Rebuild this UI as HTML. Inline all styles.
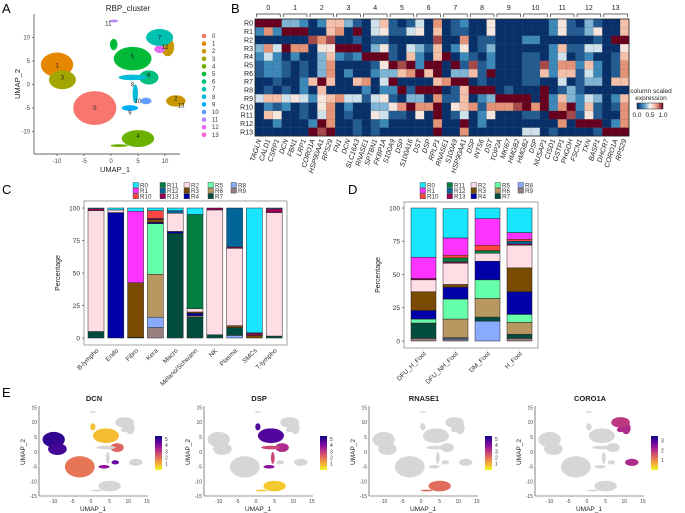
<!DOCTYPE html>
<html><head><meta charset="utf-8"><style>
body{margin:0;background:#fff}
svg{display:block;font-family:"Liberation Sans",Arial,sans-serif}
</style></head><body>
<svg id="fig" width="685" height="513" viewBox="0 0 685 513" xmlns="http://www.w3.org/2000/svg">
<g id="gA"></g>
<g id="gB"></g>
<g id="gC"></g>
<g id="gD"></g>
<g id="gE"></g>
</svg>
<script>
// ---------- data ----------
const clusterColors = ["#F8766D","#E58700","#C99800","#A3A500","#6BB100","#00BA38","#00BF7D","#00C0AF","#00BCD8","#00B0F6","#619CFF","#B983FF","#E76BF3","#FD61D1"];
// blobs: cluster, cx, cy, rx, ry (UMAP units)
const blobCluster = [0,1,3,2,2,4,4,5,5,6,7,8,8,9,10,11,12];
const blobCx = [-3,-10,-9,12,10.5,5,1.5,4,0.5,7,9,4,4.5,3.5,6.5,0.5,9];
const blobCy = [-5,4.2,1,-3.5,8,-11.5,-13,5.5,8.5,1.5,10,1.5,-2,-5,-3.5,13.5,7.5];
const blobRx = [4,3,2.5,1.8,1.2,3,1.6,3.5,0.7,1.8,2.5,2.6,0.5,1.5,1,0.8,1];
const blobRy = [3.6,2.6,2,1.2,2,1.8,0.3,2.5,1.2,1.5,1.8,0.6,2,0.6,0.7,0.3,0.8];

const rowLabels = ["R0","R1","R2","R3","R4","R5","R6","R7","R8","R9","R10","R11","R12","R13"];
const geneLabels = ["TAGLN","CALD1","CSRP1","DCN","FBN1","LRP1","CORO1A","HSP90AA1","RPS29","FN1","DCN","SLC16A3","RNASE1","SPTBN1","FKBP1A","S100A9","DSP","S100A16","DST","DSP","RPLP1","RNASE1","S100A9","HSP90AA1","DSP","INTS6","DST","TOP2A","MKI67","HMGB2","HMGB2","DSP","NUSAP1","CISD1","GSTP1","PHGDH","FSCN1","TXN","BASP1","DHCR7","CORO1A","RPS29"];
const heatRows = [
"999332026631046101407012005000000251031006",
"272999006709045114506011005000000251135006",
"000000878001011000008007011000220000001099",
"374977055999035104316025013000000261144005",
"242020036212999106206902102000110240120016",
"122101037000015989299091812000118277262017",
"122101037020023367969033619000116266142017",
"001002696006704900006799010000110040133066",
"010102060000202291999016999010009013100000",
"466454256744145103307116023999909263243026",
"021201057020033579779056717778979279261017",
"065001047010054110509014025000110998151007",
"002000297001012000007009020000000070999027",
"000000989001010000009007000000440100001999"];

const stackKeys = ["R0","R1","R10","R11","R12","R13","R2","R3","R4","R5","R6","R7","R8","R9"];
const stackColors = ["#1AE5FF","#FF33FF","#FF4444","#008040","#006699","#990055","#FFDDE5","#7A4A00","#0000A8","#66FFAA","#B89860","#004D40","#88AAFF","#998080"];
const stackOrder = ["R9","R8","R7","R6","R5","R4","R3","R2","R13","R12","R11","R10","R1","R0"];
const cCats = ["B-lympho","Endo","Fibro","Kera","Macro","Melano/Schwann","NK","Plasma","SMCs","T-lympho"];
// values per category in stackKeys order
const cVals = [
[0.5,0,0,0,0,1.5,93,0,0,0,0,5,0,0],
[1.5,0,0,0,0,0,2,0,96.5,0,0,0,0,0],
[2.5,55,0,0,0,0,0,42,0,0,0,0.5,0,0],
[2,0,6,0,0,1,0,2,1,39,33,0,8,8],
[2,0,0,0,2,0,14,0,1.5,0,0,80.5,0,0],
[5,0,0,72.5,0,0,2.5,1,2,0,1,16,0,0],
[0,0,0,0,0,1.5,96,0,0,0,0,2.5,0,0],
[0,0,0,0,30,1,59.5,1.5,0,0,0,6,2,0],
[96,0.5,0,0,0,1.5,0,2,0,0,0,0,0,0],
[0.5,0,0,0,0,3,95,0,0,0,0,1.5,0,0]];
const dCats = ["DFU_H_Foot","DFU_NH_Foot","DM_Foot","H_Foot"];
const dVals = [
[37,16,0,0,0,1,9,14,6.5,3,0.5,11,0,2],
[22,13,2,3,0,1,16,2,9,15,14,0.5,1,1],
[8,20,4,2,0,0,6,0,14,14,14,3,15,0],
[18.5,5,1.5,0,2,1,17,18,17,6,9,3,0,2]];
const yTicks = [0,25,50,75,100];

const featNames = ["DCN","DSP","RNASE1","CORO1A"];
const featMax = [5,5,5,3];
// per feature: color value (0-1 of plasma scale, -1 = gray) per cluster 0..13
const featLevels = [
[0.35,0.92,-1,0.88,-1,0.15,0.4,-1,-1,0.7,0.8,-1,-1,-1],
[-1,-1,-1,-1,0.12,0.85,0.6,-1,0.5,0.7,-1,-1,-1,-1],
[-1,-1,-1,-1,0.38,-1,-1,-1,-1,-1,-1,-1,-1,-1],
[-1,-1,0.6,-1,-1,-1,-1,0.55,-1,-1,-1,-1,0.6,-1]];

// ---------- helpers ----------
const NS="http://www.w3.org/2000/svg";
function mk(parent,tag,attrs,txt){const e=document.createElementNS(NS,tag);for(const k in attrs)e.setAttribute(k,attrs[k]);if(txt!==undefined)e.textContent=txt;parent.appendChild(e);return e;}
function plasma(t){const st=[[0,[240,249,33]],[0.25,[248,149,64]],[0.5,[204,71,120]],[0.75,[126,3,168]],[1,[13,8,135]]];
 for(let i=0;i<st.length-1;i++){if(t<=st[i+1][0]){const f=(t-st[i][0])/(st[i+1][0]-st[i][0]);const a=st[i][1],b=st[i+1][1];return `rgb(${a.map((v,j)=>Math.round(v+(b[j]-v)*f)).join(",")})`;}}return "rgb(13,8,135)";}
function rdbu(t){const st=[[0,[8,48,107]],[0.25,[67,147,195]],[0.5,[247,247,247]],[0.75,[244,165,130]],[1,[103,0,31]]];
 for(let i=0;i<st.length-1;i++){if(t<=st[i+1][0]){const f=(t-st[i][0])/(st[i+1][0]-st[i][0]);const a=st[i][1],b=st[i+1][1];return `rgb(${a.map((v,j)=>Math.round(v+(b[j]-v)*f)).join(",")})`;}}return "rgb(103,0,31)";}
const fig=document.getElementById("fig");
function letter(g,x,y,t){const e=mk(g,"text",{x:x,y:y,"font-size":13},t);}

// ---------- Panel A ----------
(function(){
 const g=document.getElementById("gA");letter(g,2,13,"A");
 const sx=v=>111+v*5.4, sy=v=>84.5-v*4.7;
 const t=mk(g,"text",{x:128,y:11,"font-size":8,"text-anchor":"middle",fill:"#222"},"RBP_cluster");
 
 mk(g,"line",{x1:34,y1:14,x2:34,y2:154,stroke:"#333","stroke-width":0.7});
 mk(g,"line",{x1:34,y1:154,x2:180,y2:154,stroke:"#333","stroke-width":0.7});
 [-10,-5,0,5,10].forEach(v=>{mk(g,"line",{x1:sx(v),y1:154,x2:sx(v),y2:156,stroke:"#333","stroke-width":0.6});mk(g,"text",{x:sx(v),y:163,"font-size":6,"text-anchor":"middle",fill:"#444"},v);});
 [-10,-5,0,5,10].forEach(v=>{mk(g,"line",{x1:32,y1:sy(v),x2:34,y2:sy(v),stroke:"#333","stroke-width":0.6});mk(g,"text",{x:30,y:sy(v)+2,"font-size":6,"text-anchor":"end",fill:"#444"},v);});
 mk(g,"text",{x:115,y:172,"font-size":7.5,"text-anchor":"middle",fill:"#222"},"UMAP_1");
 mk(g,"text",{x:0,y:0,"font-size":7.5,"text-anchor":"middle",fill:"#222",transform:"translate(20,84) rotate(-90)"},"UMAP_2");
 blobCluster.forEach((c,i)=>{const e=mk(g,"ellipse",{cx:sx(blobCx[i]),cy:sy(blobCy[i]),rx:blobRx[i]*5.4,ry:blobRy[i]*4.7,fill:clusterColors[c]});
  
 });
 [[0,-3,-5],[1,-10,4],[3,-9,1.5],[2,12,-3],[4,5,-11],[5,4,6],[6,7,2],[7,9,10],[8,4,0],[9,3.5,-6],[10,5,-3.5],[11,-0.5,13],[12,10,8],[13,13,-4.5]].forEach(a=>mk(g,"text",{x:sx(a[1]),y:sy(a[2])+2,"font-size":6,"text-anchor":"middle",fill:"#222"},a[0]));
 clusterColors.forEach((c,i)=>{const y=36+i*7.6;const d=mk(g,"circle",{cx:204,cy:y,r:2.3,fill:c});
  
  mk(g,"text",{x:212,y:y+2,"font-size":6,fill:"#333"},i);});
})();

// ---------- Panel B ----------
(function(){
 const g=document.getElementById("gB");letter(g,231,13,"B");
 const x0=255,y0=19,cw=374/42,ch=117/14;
 heatRows.forEach((row,r)=>{for(let c=0;c<42;c++){const v=+row[c]/9;
  const e=mk(g,"rect",{x:x0+c*cw,y:y0+r*ch,width:cw+0.3,height:ch+0.3,fill:rdbu(v),stroke:"#555","stroke-width":0.15});
  }
  mk(g,"text",{x:x0-2,y:y0+r*ch+ch/2+2.5,"font-size":7,"text-anchor":"end",fill:"#222"},rowLabels[r]);
 });
 mk(g,"rect",{x:x0,y:y0,width:374,height:117,fill:"none",stroke:"#222","stroke-width":0.8});
 for(let k=0;k<14;k++){const a=x0+k*3*cw+1.5,b=x0+(k+1)*3*cw-1.5;
  mk(g,"path",{d:`M${a},17 L${a},14 L${b},14 L${b},17`,fill:"none",stroke:"#333","stroke-width":0.7});
  mk(g,"text",{x:(a+b)/2,y:10,"font-size":7,"text-anchor":"middle",fill:"#222"},k);}
 geneLabels.forEach((t,c)=>{const x=x0+c*cw+cw/2+2,y=140;
  const e=mk(g,"text",{x:0,y:0,"font-size":7,"font-style":"italic","text-anchor":"end",fill:"#222",transform:`translate(${x},${y}) rotate(-72)`},t);
  });
 const defs=mk(g,"defs",{});const lg=mk(defs,"linearGradient",{id:"rdbuG"});
 for(let i=0;i<=10;i++)mk(lg,"stop",{offset:i/10,"stop-color":rdbu(i/10)});
 const cb=mk(g,"rect",{x:637,y:103,width:26,height:6,fill:"url(#rdbuG)",stroke:"#222","stroke-width":0.5});
 
 mk(g,"text",{x:651,y:93,"font-size":6.5,"text-anchor":"middle",fill:"#222"},"column scaled");
 mk(g,"text",{x:651,y:100,"font-size":6.5,"text-anchor":"middle",fill:"#222"},"expression");
 [["0.0",637],["0.5",650],["1.0",663]].forEach(a=>mk(g,"text",{x:a[1],y:117,"font-size":6.5,"text-anchor":"middle",fill:"#222"},a[0]));
})();

// ---------- Stacked bars ----------
function stacked(g,cats,vals,box,centers,bw,legendX,legendY,prefix){
 const sy=v=>box.y0-v*box.k;
 const r=mk(g,"rect",{x:box.l,y:box.t,width:box.r-box.l,height:box.b-box.t,fill:"none",stroke:"#999","stroke-width":0.9});
 
 yTicks.forEach(v=>{mk(g,"line",{x1:box.l-2,y1:sy(v),x2:box.l,y2:sy(v),stroke:"#333","stroke-width":0.6});
  mk(g,"text",{x:box.l-4,y:sy(v)+2.3,"font-size":6.5,"text-anchor":"end",fill:"#333"},v);});
 mk(g,"text",{x:0,y:0,"font-size":7,"text-anchor":"middle",fill:"#222",transform:`translate(${box.l-24},${(box.t+box.b)/2}) rotate(-90)`},"Percentage");
 cats.forEach((cat,i)=>{let acc=0;const cx=centers(i);
  stackOrder.forEach(key=>{const k=stackKeys.indexOf(key);const v=vals[i][k];if(v<=0)return;
   const e=mk(g,"rect",{x:cx-bw/2,y:sy(acc+v),width:bw,height:v*box.k,fill:stackColors[k],stroke:"#222","stroke-width":0.5});
   acc+=v;});
  const t=mk(g,"text",{x:0,y:0,"font-size":6.5,"text-anchor":"end",fill:"#333",transform:`translate(${cx+3},${box.b+6}) rotate(-45)`},cat);
  
 });
 const cols=[["R0","R1","R10"],["R11","R12","R13"],["R2","R3","R4"],["R5","R6","R7"],["R8","R9"]];
 const colW=[27,24,24,23,20];let x=legendX;
 cols.forEach((col,ci)=>{col.forEach((key,ri)=>{const k=stackKeys.indexOf(key);const y=legendY+ri*5.6;
  const s=mk(g,"rect",{x:x,y:y,width:5.5,height:5,fill:stackColors[k],stroke:"#333","stroke-width":0.4});
  
  mk(g,"text",{x:x+7,y:y+4.8,"font-size":6.3,fill:"#333"},key);});x+=colW[ci];});
}
(function(){const g=document.getElementById("gC");letter(g,2,194,"C");
 stacked(g,cCats,cVals,{l:84,r:287,t:201,b:345,y0:338,k:1.3},i=>96+19.8*i,16,133,182.5,"c");})();
(function(){const g=document.getElementById("gD");letter(g,348,194,"D");
 stacked(g,dCats,dVals,{l:404,r:538,t:202,b:348,y0:341,k:1.33},i=>423.5+32*i,25,420,182.5,"d");})();

// ---------- Panel E ----------
(function(){const g=document.getElementById("gE");letter(g,2,397,"E");
 const defs=mk(g,"defs",{});const lg=mk(defs,"linearGradient",{id:"plG",x1:0,y1:1,x2:0,y2:0});
 for(let i=0;i<=10;i++)mk(lg,"stop",{offset:i/10,"stop-color":plasma(i/10)});
 featNames.forEach((name,f)=>{const ox=[0,165,330,496][f];
  const sx=v=>ox+91+v*3.73, sy=v=>452-v*2.96;
  const sub=mk(g,"g",{});
  mk(sub,"text",{x:ox+94,y:401,"font-size":7.5,"font-weight":"bold","text-anchor":"middle",fill:"#222"},name);
  mk(sub,"line",{x1:ox+39,y1:406,x2:ox+39,y2:496,stroke:"#333","stroke-width":0.6});
  mk(sub,"line",{x1:ox+39,y1:496,x2:ox+148,y2:496,stroke:"#333","stroke-width":0.6});
  [-10,-5,0,5,10,15].forEach(v=>mk(sub,"text",{x:sx(v),y:503,"font-size":5,"text-anchor":"middle",fill:"#444"},v));
  [-15,-10,-5,0,5,10,15].forEach(v=>mk(sub,"text",{x:ox+37,y:sy(v)+1.8,"font-size":5,"text-anchor":"end",fill:"#444"},v));
  mk(sub,"text",{x:ox+93,y:511,"font-size":6.5,"text-anchor":"middle",fill:"#222"},"UMAP_1");
  mk(sub,"text",{x:0,y:0,"font-size":6.5,"text-anchor":"middle",fill:"#222",transform:`translate(${ox+25},452) rotate(-90)`},"UMAP_2");
  blobCluster.forEach((c,i)=>{const lv=featLevels[f][c];
   const e=mk(sub,"ellipse",{cx:sx(blobCx[i]),cy:sy(blobCy[i]),rx:blobRx[i]*3.73,ry:blobRy[i]*2.96,fill:lv<0?"#d6d6d6":plasma(lv)});
   });
  const cb=mk(sub,"rect",{x:ox+155,y:436,width:7,height:34,fill:"url(#plG)"});
  
  for(let v=1;v<=featMax[f];v++){const y=470-v/(featMax[f]+0.5)*34;mk(sub,"text",{x:ox+165,y:y+1.8,"font-size":5,fill:"#333"},v);}
 });
})();
</script>
</body></html>
